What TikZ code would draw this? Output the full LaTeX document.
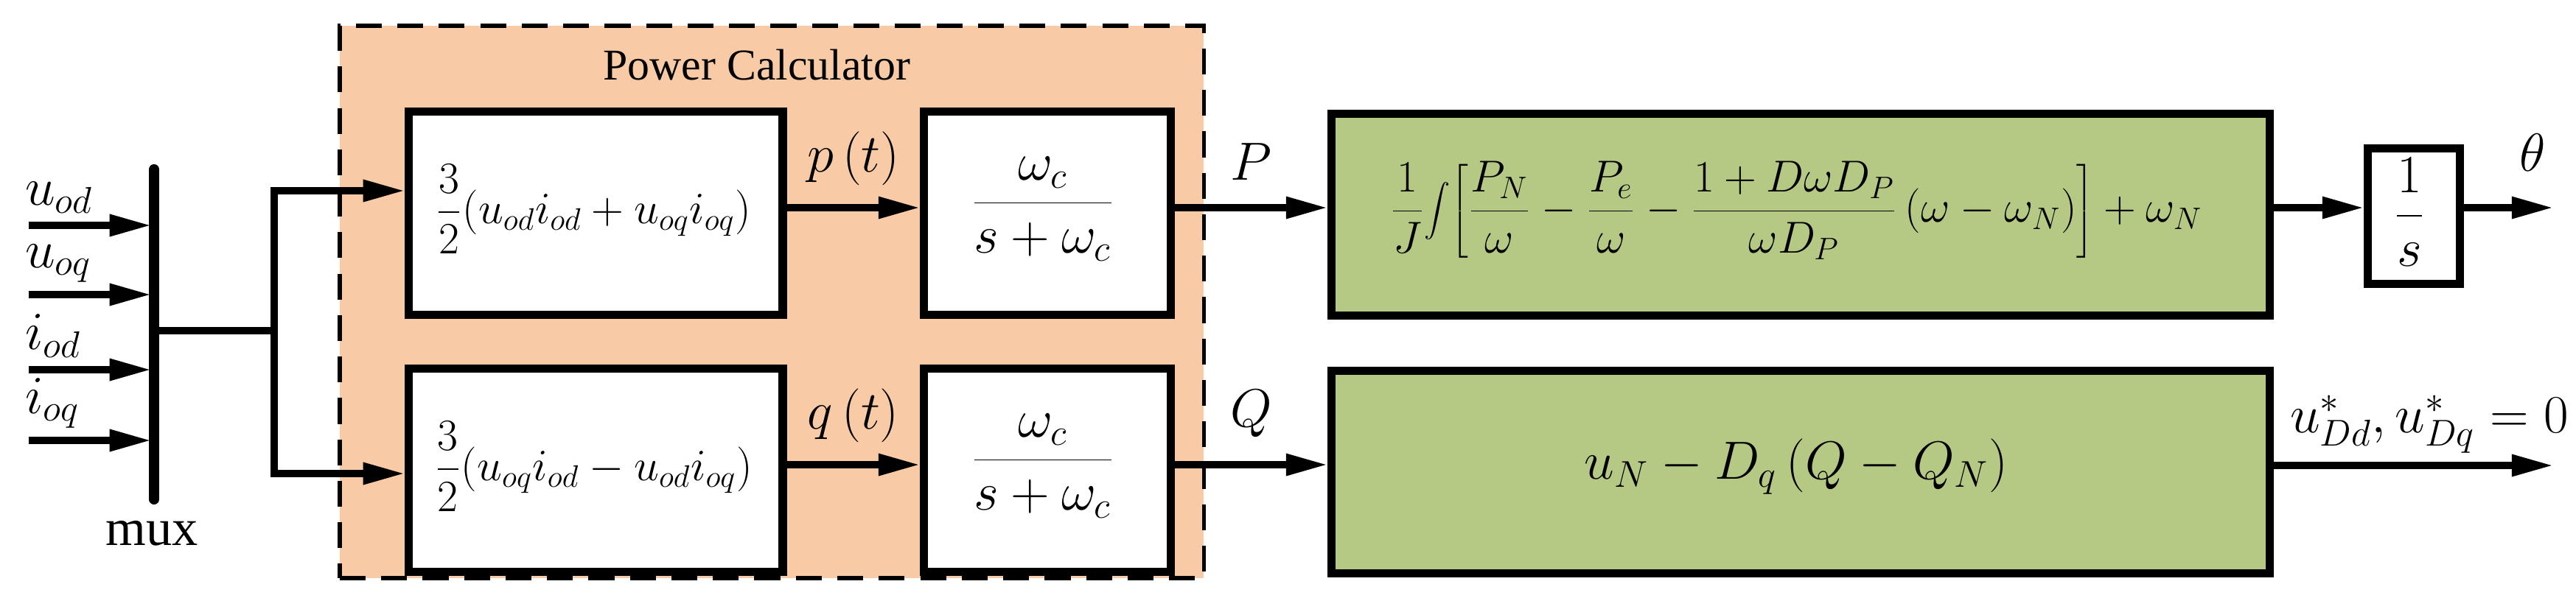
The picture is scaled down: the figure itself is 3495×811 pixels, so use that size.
\documentclass[tikz,border=0pt]{standalone}
\usepackage{fontspec}
\setmainfont{Liberation Serif}
\usetikzlibrary{arrows.meta}
\definecolor{pcorange}{HTML}{F8CBA6}
\definecolor{blkgreen}{HTML}{B5C985}
\begin{document}
\begin{tikzpicture}[x=0.01cm,y=-0.01cm,
  blk/.style={draw,line width=3.2pt,inner sep=0pt,anchor=north west},
  sig/.style={line width=2.6pt,-{Triangle[length=16pt,width=8pt]}},
  wire/.style={line width=2.6pt},
  every node/.style={font=\fontsize{20}{24}\selectfont}]
\useasboundingbox (0,0) rectangle (3495,811);
% power calculator frame
\node[draw,line width=1.6pt,dash pattern=on 10pt off 6pt,fill=pcorange,anchor=north west,inner sep=0pt,
  minimum width=1172*0.2845pt,minimum height=750*0.2845pt] (pc) at (458,32) {};
\node (pctitle) at (1027,88) {\fontsize{17}{20}\selectfont Power Calculator};
% blocks
\node[blk,fill=white,minimum width=507*0.2845pt,minimum height=276*0.2845pt] (b1) at (549,146) {};
\node[blk,fill=white,minimum width=335*0.2845pt,minimum height=276*0.2845pt] (f1) at (1248,146) {};
\node[blk,fill=white,minimum width=507*0.2845pt,minimum height=276*0.2845pt] (b2) at (549,495) {};
\node[blk,fill=white,minimum width=335*0.2845pt,minimum height=276*0.2845pt] (f2) at (1248,495) {};
\node[blk,fill=blkgreen,minimum width=1272*0.2845pt,minimum height=274*0.2845pt] (g1) at (1801,149) {};
\node[blk,fill=blkgreen,minimum width=1272*0.2845pt,minimum height=275*0.2845pt] (g2) at (1801,498) {};
\node[blk,fill=white,minimum width=125*0.2845pt,minimum height=184*0.2845pt] (is) at (3207,196) {};
% block contents
\node (t1) at (805,284) {\fontsize{17}{20}\selectfont$\displaystyle\frac{3}{2}\!\left(u_{od}i_{od}+u_{oq}i_{oq}\right)$};
\node (t2) at (805,633) {\fontsize{17}{20}\selectfont$\displaystyle\frac{3}{2}\!\left(u_{oq}i_{od}-u_{od}i_{oq}\right)$};
\node (t3) at (1415,284) {$\displaystyle\frac{\omega_c}{s+\omega_c}$};
\node (t4) at (1415,633) {$\displaystyle\frac{\omega_c}{s+\omega_c}$};
\node (t5) at (2437,286) {\fontsize{17}{20}\selectfont$\displaystyle\frac{1}{J}\!\int\!\left[\frac{P_N}{\omega}-\frac{P_e}{\omega}-\frac{1+D\omega D_P}{\omega D_P}\left(\omega-\omega_N\right)\right]+\omega_N$};
\node (t6) at (2437,634) {$u_N-D_q\left(Q-Q_N\right)$};
\node (t7) at (3269,288) {$\displaystyle\frac{1}{s}$};
% mux
\draw[line width=4pt,line cap=round] (209,230) coordinate (mt) -- (209,678) coordinate (mb);
\node (mux) at (206,724) {mux};
\foreach \y/\t [count=\i] in {306/u_{od},400/u_{oq},502/i_{od},598/i_{oq}}{
  \coordinate (in\i) at (39,\y);
  \coordinate (mi\i) at (205,\y);
  \draw[sig] (in\i) -- (mi\i);
  \node[anchor=south west,inner sep=1pt] (l\i) at (30,\y-12) {$\t$};
}
\coordinate (mo) at (211,449);
\coordinate (sp) at (372,449);
\coordinate (st) at (372,259);
\coordinate (sb) at (372,643);
\draw[wire] (mo) -- (sp);
\draw[wire] (st) -- (sb);
\draw[sig] ([xshift=-1.3pt]st) -- (b1.west |- st);
\draw[sig] ([xshift=-1.3pt]sb) -- (b2.west |- sb);
\draw[sig] (b1.east |- 0,282) -- node[above=4pt] {$p\left(t\right)$} (f1.west |- 0,282);
\draw[sig] (b2.east |- 0,631) -- node[above=4pt] {$q\left(t\right)$} (f2.west |- 0,631);
\draw[sig] (f1.east |- 0,282) -- node[above=6pt] {$P$} (g1.west |- 0,282);
\draw[sig] (f2.east |- 0,631) -- node[above=6pt] {$Q$} (g2.west |- 0,631);
\draw[sig] (g1.east |- 0,282) -- (is.west |- 0,282);
\coordinate (th) at (3464,282);
\coordinate (uo) at (3464,632);
\draw[sig] (is.east |- 0,282) -- (th);
\node (theta) at (3436,207) {$\theta$};
\draw[sig] (g2.east |- 0,632) -- (uo);
\node (ulbl) at (3296,576) {$u_{Dd}^{*},u_{Dq}^{*}=0$};
\end{tikzpicture}
\end{document}
